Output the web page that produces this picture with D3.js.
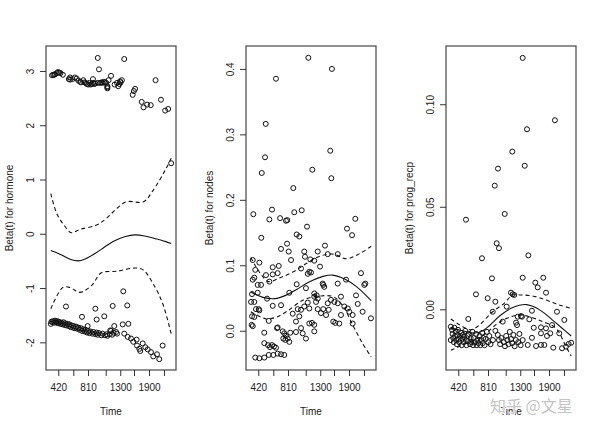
<!DOCTYPE html>
<html>
<head>
<meta charset="utf-8">
<script src="https://cdn.jsdelivr.net/npm/d3@7"></script>
<style>
  body { margin: 0; background: #fff; }
  svg { display: block; font-family: "Liberation Sans", Arial, sans-serif; }
</style>
</head>
<body>
<script>
// x axis: Kaplan-Meier transformed time (0..1), labelled with real times
var tickPos = [0.062, 0.187, 0.309, 0.456, 0.577, 0.691, 0.816, 0.940];
var tickLabels = ["420", "", "810", "", "1300", "", "1900", ""];

// ---- hormone ----
var hormoneTicks = [-2, -1, 0, 1, 2, 3];
var hormoneTickLabels = ["-2", "-1", "0", "1", "2", "3"];
var hormoneLim = [-2.51, 3.46];
var hormonePts = [
  [0.01,2.92],[0.02,2.93],[0.03,2.93],[0.035,2.94],[0.05,2.96],[0.06,2.98],[0.07,2.97],[0.08,2.96],[0.10,2.93],
  [0.15,2.85],[0.16,2.88],[0.16,2.84],[0.18,2.85],[0.20,2.88],[0.215,2.86],[0.23,2.82],[0.245,2.80],[0.25,2.79],
  [0.27,2.83],[0.28,2.79],[0.29,2.78],[0.30,2.76],[0.31,2.75],[0.32,2.78],[0.33,2.75],[0.34,2.76],[0.35,2.85],
  [0.35,2.78],[0.36,2.76],[0.37,2.77],[0.39,2.78],[0.39,3.24],[0.40,3.03],[0.41,2.78],[0.42,2.79],[0.43,2.78],
  [0.44,2.80],[0.45,2.79],[0.46,2.78],[0.47,2.72],[0.47,2.68],[0.47,2.70],[0.48,2.83],[0.50,2.91],[0.53,2.75],
  [0.55,2.78],[0.56,2.72],[0.57,2.76],[0.575,2.81],[0.58,2.79],[0.59,2.83],[0.61,3.22],[0.68,2.56],[0.69,2.63],
  [0.70,2.67],[0.755,2.43],[0.77,2.33],[0.80,2.38],[0.83,2.37],[0.87,2.83],[0.915,2.47],[0.95,2.27],[0.975,2.30],
  [1.0,1.30],
  [0.0,-1.66],[0.005,-1.62],[0.015,-1.63],[0.02,-1.61],[0.03,-1.64],[0.035,-1.60],[0.045,-1.63],[0.05,-1.61],
  [0.06,-1.65],[0.065,-1.62],[0.075,-1.63],[0.08,-1.66],[0.09,-1.64],[0.10,-1.67],[0.105,-1.63],[0.115,-1.68],
  [0.12,-1.65],[0.13,-1.69],[0.14,-1.66],[0.15,-1.70],[0.155,-1.67],[0.165,-1.72],[0.175,-1.69],[0.185,-1.73],
  [0.19,-1.70],[0.20,-1.74],[0.21,-1.71],[0.22,-1.75],[0.23,-1.73],[0.24,-1.77],[0.25,-1.74],[0.26,-1.79],
  [0.27,-1.76],[0.28,-1.80],[0.29,-1.77],[0.30,-1.82],[0.31,-1.79],[0.32,-1.83],[0.33,-1.80],[0.345,-1.84],
  [0.355,-1.81],[0.37,-1.85],[0.38,-1.82],[0.39,-1.86],[0.40,-1.83],[0.42,-1.87],[0.43,-1.84],[0.45,-1.87],
  [0.465,-1.85],[0.47,-1.88],[0.49,-1.85],[0.50,-1.79],[0.51,-1.86],[0.52,-1.82],[0.55,-1.84],
  [0.126,-1.34],[0.259,-1.53],[0.37,-1.38],[0.381,-1.58],[0.306,-1.70],[0.444,-1.52],[0.514,-1.33],[0.602,-1.06],
  [0.635,-1.32],[0.597,-1.67],[0.644,-1.66],[0.494,-1.78],[0.527,-1.70],[0.542,-1.81],[0.929,-2.06],
  [0.610,-1.84],[0.639,-1.90],[0.666,-1.93],[0.685,-1.99],[0.713,-1.95],[0.716,-2.06],[0.735,-2.12],[0.743,-2.16],
  [0.763,-2.02],[0.785,-2.09],[0.805,-2.13],[0.832,-2.18],[0.851,-2.26],[0.882,-2.22],[0.901,-2.31]
];
var hormoneFit = [[0,-0.31],[0.08,-0.38],[0.16,-0.47],[0.23,-0.50],[0.28,-0.47],[0.37,-0.36],[0.45,-0.24],
  [0.53,-0.13],[0.62,-0.05],[0.70,-0.02],[0.78,-0.04],[0.87,-0.09],[0.95,-0.14],[1.0,-0.18]];
var hormoneUpper = [[0,0.74],[0.05,0.37],[0.12,0.13],[0.17,0.02],[0.24,0.08],[0.38,0.16],[0.46,0.28],
  [0.55,0.47],[0.63,0.59],[0.77,0.59],[0.85,0.80],[0.95,1.17],[1.0,1.39]];
var hormoneLower = [[0,-1.38],[0.10,-0.99],[0.16,-0.99],[0.24,-1.08],[0.34,-0.95],[0.42,-0.72],[0.55,-0.69],
  [0.71,-0.63],[0.77,-0.67],[0.865,-0.98],[0.93,-1.29],[1.0,-1.84]];

// ---- nodes ----
var nodesTicks = [0, 0.1, 0.2, 0.3, 0.4];
var nodesTickLabels = ["0.0", "0.1", "0.2", "0.3", "0.4"];
var nodesLim = [-0.060, 0.435];
var nodesPts = [
  [0.021,0.178],[0.091,0.241],[0.118,0.265],[0.124,0.316],[0.154,0.170],[0.176,0.185],[0.209,0.385],[0.243,0.172],
  [0.292,0.168],[0.303,0.169],[0.353,0.218],[0.361,0.181],[0.423,0.184],[0.467,0.159],[0.478,0.417],[0.511,0.246],
  [0.660,0.275],[0.674,0.400],[0.669,0.233],[0.799,0.156],[0.868,0.171],[0.087,0.142],[0.381,0.147],[0.403,0.144],
  [0.301,0.133],[0.251,0.125],[0.315,0.121],[0.016,0.108],[0.071,0.104],[0.037,0.093],[0.182,0.097],[0.232,0.099],
  [0.334,0.108],[0.444,0.121],[0.450,0.113],[0.494,0.109],[0.527,0.107],[0.556,0.121],[0.616,0.130],[0.639,0.117],
  [0.722,0.117],[0.575,0.098],[0.417,0.095],[0.486,0.090],[0.841,0.146],[0.915,0.088],[0.029,0.081],[0.126,0.085],
  [0.182,0.086],[0.223,0.088],[0.016,0.078],[0.057,0.070],[0.085,0.070],[0.154,0.075],[0.010,0.056],[0.057,0.058],
  [0.135,0.049],[0.320,0.058],[0.381,0.071],[0.473,0.087],[0.500,0.089],[0.597,0.072],[0.602,0.070],[0.610,0.067],
  [0.722,0.072],[0.791,0.078],[0.943,0.070],[0.002,0.044],[0.029,0.044],[0.043,0.033],[0.066,0.033],[0.071,0.031],
  [0.010,0.022],[0.029,0.021],[0.007,0.009],[0.016,0.007],[0.112,-0.003],[0.112,-0.019],[0.143,-0.022],[0.159,-0.025],
  [0.176,-0.022],[0.193,-0.024],[0.209,-0.026],[0.037,-0.041],[0.071,-0.042],[0.112,-0.041],[0.149,-0.037],
  [0.187,-0.037],[0.223,-0.035],[0.251,-0.036],[0.278,-0.037],[0.182,0.038],[0.251,0.039],[0.149,0.015],[0.218,0.004],
  [0.223,0.005],[0.265,-0.001],[0.278,-0.004],[0.292,-0.008],[0.306,-0.012],[0.270,-0.012],[0.287,-0.014],
  [0.320,-0.017],[0.328,-0.003],[0.375,-0.002],[0.417,0.004],[0.431,-0.004],[0.375,0.014],[0.458,-0.012],
  [0.486,0.011],[0.508,0.012],[0.527,0.009],[0.527,-0.001],[0.348,0.026],[0.390,0.033],[0.403,0.022],[0.417,0.032],
  [0.444,0.037],[0.473,0.043],[0.486,0.034],[0.547,0.054],[0.556,0.049],[0.527,0.052],[0.542,0.044],[0.556,0.033],
  [0.583,0.027],[0.602,0.033],[0.625,0.024],[0.647,0.032],[0.639,0.042],[0.666,0.047],[0.694,0.044],[0.722,0.042],
  [0.685,0.014],[0.702,0.012],[0.749,0.052],[0.777,0.037],[0.805,0.034],[0.818,0.029],[0.846,0.024],[0.749,0.024],
  [0.735,0.011],[0.846,0.011],[0.888,0.041],[0.929,0.029],[0.998,0.019],[0.874,0.054],[0.951,0.072],[0.458,0.065],
  [0.527,0.057]
];
var nodesFit = [[0,0.059],[0.1,0.051],[0.2,0.049],[0.29,0.054],[0.38,0.063],[0.48,0.074],[0.6,0.083],
  [0.68,0.085],[0.78,0.079],[0.88,0.067],[1.0,0.046]];
var nodesUpper = [[0,0.112],[0.035,0.100],[0.09,0.085],[0.146,0.075],[0.243,0.081],[0.353,0.090],[0.464,0.103],
  [0.575,0.114],[0.685,0.117],[0.796,0.110],[0.906,0.118],[1.0,0.129]];
var nodesLower = [[0,0.029],[0.049,0.024],[0.132,0.018],[0.215,0.021],[0.311,0.031],[0.436,0.047],[0.575,0.053],
  [0.685,0.052],[0.768,0.037],[0.838,0.012],[0.921,-0.017],[1.0,-0.040]];

// ---- prog_recp ----
var progTicks = [0, 0.05, 0.10];
var progTickLabels = ["0.00", "0.05", "0.10"];
var progLim = [-0.0296, 0.1284];
var progPts = [
  [0.597,0.1226],[0.865,0.0922],[0.633,0.0878],[0.511,0.0769],[0.614,0.0700],[0.392,0.0686],[0.365,0.0603],
  [0.448,0.0465],[0.126,0.0437],[0.381,0.0322],[0.400,0.0298],[0.259,0.0249],[0.644,0.0263],[0.342,0.0151],
  [0.597,0.0154],[0.702,0.0130],[0.722,0.0107],[0.768,0.0154],[0.791,0.0081],[0.209,0.0073],[0.306,0.0054],
  [0.370,0.0037],[0.500,0.0081],[0.514,0.0073],[0.527,0.0070],[0.464,0.0013],[0.348,-0.0012],[0.145,-0.0047],
  [0.431,-0.0060],[0.556,-0.0036],[0.583,-0.0033],[0.591,-0.0036],[0.542,-0.0065],[0.550,-0.0077],[0.674,-0.0007],
  [0.652,-0.0049],[0.882,-0.0012],[0.943,-0.0052],[0.689,-0.0090],[0.749,-0.0088],[0.791,-0.0093],[0.841,-0.0077],
  [0.826,-0.0117],[0.799,-0.0130],[0.749,-0.0117],[0.901,-0.0117],[0.674,-0.0139],[0.597,-0.0150],[0.639,-0.0174],
  [0.708,-0.0179],[0.749,-0.0174],[0.777,-0.0174],[0.851,-0.0187],[0.924,-0.0190],[0.957,-0.0182],[1.0,-0.0163],
  [0.979,-0.0169],
  [0.37,-0.0105],[0.39,-0.0125],[0.40,-0.0150],[0.41,-0.0170],[0.42,-0.0140],[0.44,-0.0160],[0.45,-0.0180],
  [0.46,-0.0130],[0.47,-0.0150],[0.48,-0.0170],[0.49,-0.0110],[0.50,-0.0145],[0.51,-0.0165],[0.52,-0.0125],
  [0.53,-0.0180],[0.54,-0.0150],[0.56,-0.0160],[0.57,-0.0120],[0.58,-0.0175],[0.35,-0.0150],[0.33,-0.0170],
  [0.32,-0.0130],[0.31,-0.0160],[0.30,-0.0110],[0.29,-0.0145],[0.28,-0.0175],
  [0.0,-0.0085],[0.01,-0.0100],[0.015,-0.0120],[0.02,-0.0140],[0.0,-0.0150],[0.025,-0.0160],[0.03,-0.0090],
  [0.035,-0.0130],[0.04,-0.0110],[0.045,-0.0150],[0.05,-0.0170],[0.055,-0.0125],[0.06,-0.0100],[0.065,-0.0145],
  [0.07,-0.0160],[0.08,-0.0130],[0.085,-0.0115],[0.09,-0.0175],[0.095,-0.0145],[0.10,-0.0125],[0.105,-0.0160],
  [0.11,-0.0135],[0.12,-0.0105],[0.125,-0.0150],[0.13,-0.0175],[0.14,-0.0130],[0.145,-0.0155],[0.15,-0.0120],
  [0.16,-0.0170],[0.165,-0.0140],[0.17,-0.0160],[0.18,-0.0110],[0.185,-0.0175],[0.19,-0.0140],[0.20,-0.0160],
  [0.21,-0.0120],[0.215,-0.0175],[0.22,-0.0150],[0.23,-0.0165],[0.24,-0.0130],[0.245,-0.0175],[0.25,-0.0150],
  [0.26,-0.0115],[0.265,-0.0165],[0.27,-0.0140]
];
var progFit = [[0,-0.0093],[0.08,-0.0102],[0.17,-0.0115],[0.24,-0.0112],[0.32,-0.0080],[0.41,-0.0030],
  [0.50,0.0005],[0.57,0.0020],[0.63,0.0023],[0.70,0.0010],[0.78,-0.0020],[0.85,-0.0055],[0.92,-0.0090],[1.0,-0.0130]];
var progUpper = [[0,-0.0047],[0.076,-0.0077],[0.168,-0.0100],[0.237,-0.0077],[0.348,-0.0012],[0.444,0.0029],
  [0.514,0.0070],[0.583,0.0070],[0.680,0.0065],[0.791,0.0045],[0.901,0.0021],[1.0,0.0005]];
var progLower = [[0,-0.0200],[0.099,-0.0174],[0.209,-0.0146],[0.292,-0.0117],[0.390,-0.0068],[0.500,-0.0036],
  [0.583,-0.0028],[0.652,-0.0036],[0.763,-0.0060],[0.874,-0.0093],[0.957,-0.0182],[1.0,-0.0228]];

var panels = [
  {name: "hormone", lim: hormoneLim, ticks: hormoneTicks, labels: hormoneTickLabels,
   pts: hormonePts, fit: hormoneFit, upper: hormoneUpper, lower: hormoneLower},
  {name: "nodes", lim: nodesLim, ticks: nodesTicks, labels: nodesTickLabels,
   pts: nodesPts, fit: nodesFit, upper: nodesUpper, lower: nodesLower},
  {name: "prog_recp", lim: progLim, ticks: progTicks, labels: progTickLabels,
   pts: progPts, fit: progFit, upper: progUpper, lower: progLower}
];

var W = 600, H = 429;
var plotTop = 46, plotBottom = 370, boxW = 130;
var font = "'Liberation Sans', Arial, sans-serif";

var svg = d3.select("body").append("svg")
  .attr("width", W)
  .attr("height", H);

svg.append("rect").attr("width", W).attr("height", H).attr("fill", "#fff");

panels.forEach(function(p, i){
  var left = 46 + 200 * i;
  var x = d3.scaleLinear().domain([-0.04, 1.04]).range([left, left + boxW]);
  var y = d3.scaleLinear().domain(p.lim).range([plotBottom, plotTop]);
  var g = svg.append("g");

  var line = d3.line()
    .x(function(d){ return x(d[0]); })
    .y(function(d){ return y(d[1]); })
    .curve(d3.curveCatmullRom.alpha(0.5));

  g.selectAll("circle")
    .data(p.pts)
    .enter()
    .append("circle")
    .attr("cx", function(d){ return x(d[0]); })
    .attr("cy", function(d){ return y(d[1]); })
    .attr("r", 2.5)
    .attr("fill", "none")
    .attr("stroke", "#111")
    .attr("stroke-width", 1);

  g.append("path").datum(p.fit).attr("d", line)
    .attr("fill", "none").attr("stroke", "#111").attr("stroke-width", 1.1);
  [p.upper, p.lower].forEach(function(b){
    g.append("path").datum(b).attr("d", line)
      .attr("fill", "none").attr("stroke", "#111").attr("stroke-width", 1.1)
      .attr("stroke-dasharray", "4,3");
  });

  // frame
  g.append("rect")
    .attr("x", left).attr("y", plotTop)
    .attr("width", boxW).attr("height", plotBottom - plotTop)
    .attr("fill", "none").attr("stroke", "#555").attr("stroke-width", 1.3);

  // x axis
  var xa = g.append("g")
    .attr("transform", "translate(0," + plotBottom + ")")
    .call(d3.axisBottom(x).tickValues(tickPos)
      .tickFormat(function(d, k){ return tickLabels[k]; })
      .tickSize(6).tickSizeOuter(0));
  xa.select(".domain").remove();
  xa.selectAll("line").attr("stroke", "#333");
  xa.selectAll("text")
    .attr("y", 14)
    .attr("fill", "#222")
    .style("font-family", font)
    .style("font-size", "10px");

  // y axis
  var ya = g.append("g")
    .attr("transform", "translate(" + left + ",0)")
    .call(d3.axisLeft(y).tickValues(p.ticks)
      .tickFormat(function(d, k){ return p.labels[k]; })
      .tickSize(6).tickSizeOuter(0));
  ya.select(".domain").remove();
  ya.selectAll("line").attr("stroke", "#333");
  ya.selectAll("text")
    .attr("x", 0).attr("y", -12).attr("dy", null)
    .attr("transform", "rotate(-90)")
    .attr("text-anchor", "middle")
    .attr("fill", "#222")
    .style("font-family", font)
    .style("font-size", "10px");

  // titles
  svg.append("text")
    .attr("transform", "translate(" + (left - 33) + "," + ((plotTop + plotBottom) / 2) + ") rotate(-90)")
    .attr("text-anchor", "middle")
    .attr("font-size", 10)
    .attr("fill", "#222")
    .text("Beta(t) for " + p.name);

  svg.append("text")
    .attr("x", left + boxW / 2)
    .attr("y", 415)
    .attr("text-anchor", "middle")
    .attr("font-size", 10)
    .attr("fill", "#222")
    .text("Time");
});

// watermark
svg.append("text")
  .attr("x", 490)
  .attr("y", 412)
  .attr("font-family", "'Noto Sans CJK SC', sans-serif")
  .attr("font-size", 16)
  .attr("fill", "#c4c4c4")
  .attr("stroke", "#fff")
  .attr("stroke-width", 1.5)
  .attr("paint-order", "stroke")
  .text("知乎 @文星");
</script>
</body>
</html>
